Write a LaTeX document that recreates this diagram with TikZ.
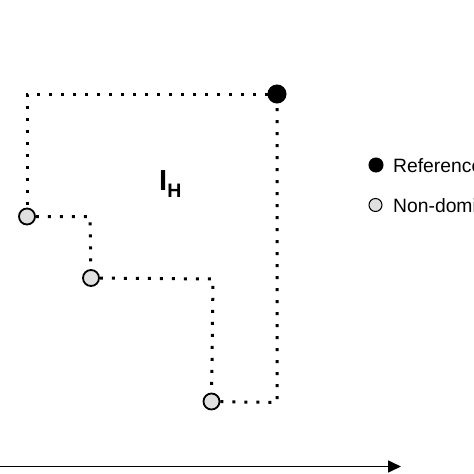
\documentclass[tikz,border=0pt]{standalone}
\usepackage{fontspec}
\setmainfont{Liberation Sans}
\usetikzlibrary{arrows.meta}

\begin{document}
\begin{tikzpicture}[x=1pt,y=-1pt,>={Triangle[length=13pt,width=12pt]},
  refpt/.style={circle,draw=black,fill=black,line width=1pt,minimum size=18pt,inner sep=0pt},
  ndpt/.style={circle,draw=black,fill=black!12,line width=1.8pt,minimum size=16pt,inner sep=0pt},
  dots/.style={line width=3pt,dash pattern=on 3pt off 9pt},
  lab/.style={font=\fontsize{19.3}{21}\selectfont,anchor=base west,inner sep=0pt}]
\clip (0,0) rectangle (474,474);
% points
\node[refpt] (r) at (277,94) {};
\node[ndpt] (n1) at (27,216.5) {};
\node[ndpt] (n2) at (91,278) {};
\node[ndpt] (n3) at (211.5,401.5) {};
\coordinate (c0) at (27,94);
\coordinate (c1) at (90,216.5);
\coordinate (c2) at (213,279);
\coordinate (c3) at (277,402.5);
\draw[dots] (r) -- (c0) -- (n1);
\draw[dots] (n1) -- (c1) -- (n2);
\draw[dots] (n2) -- (c2) -- (n3);
\draw[dots] (n3) -- (c3) -- (r);
\node[inner sep=0pt,anchor=base west] (ih) at (159,190)
 {\fontsize{29}{29}\selectfont\bfseries I\raisebox{-7pt}{\fontsize{19.5}{20}\selectfont H}};
% legend
\node[refpt,minimum size=14pt] (lr) at (376,165) {};
\node[lab] (lrt) at (393,172.5) {Reference point};
\node[ndpt,line width=1pt,minimum size=13pt] (ln) at (375.5,205) {};
\node[lab] (lnt) at (393,212.5) {Non-dominated points};
% axis
\coordinate (a0) at (0,466.5);
\coordinate (a1) at (401,466.5);
\draw[->,line width=1.6pt] (a0) -- (a1);
\end{tikzpicture}
\end{document}
